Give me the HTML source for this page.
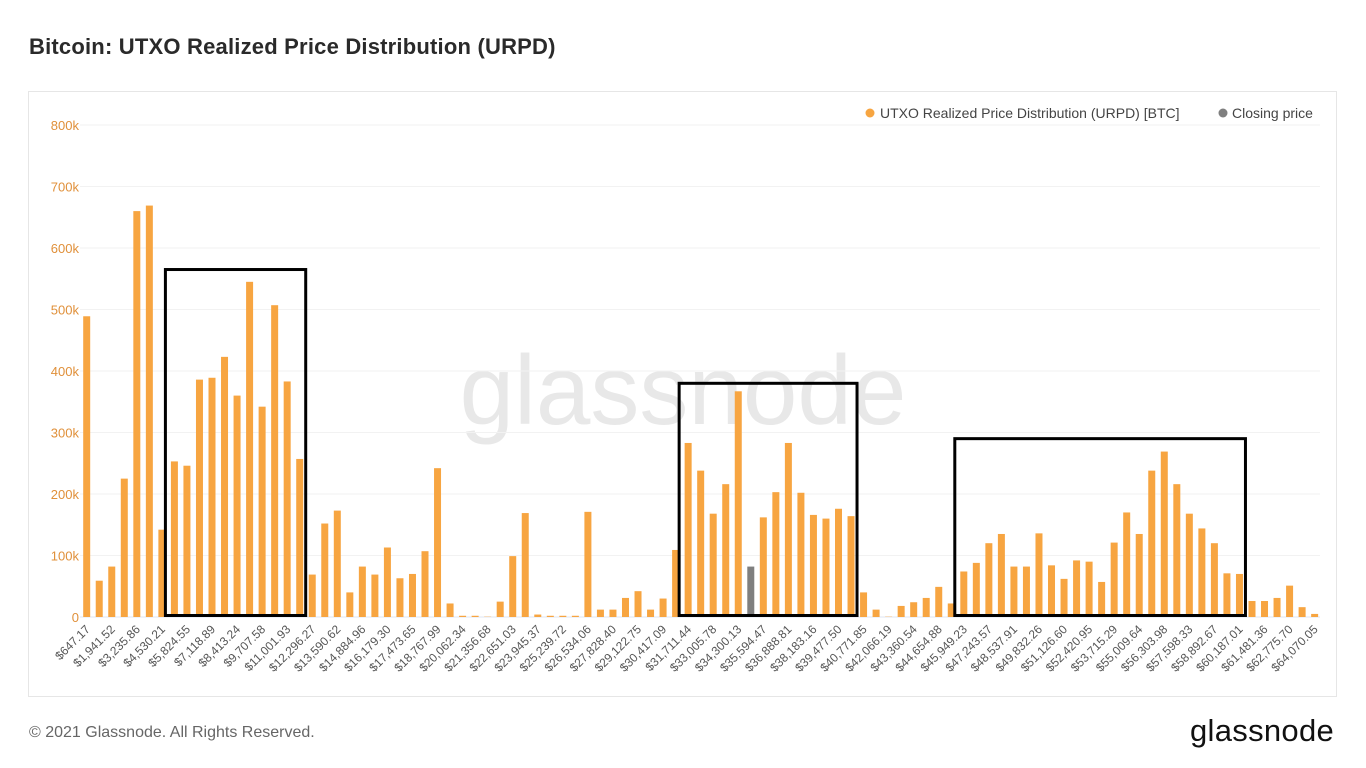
<!DOCTYPE html>
<html><head><meta charset="utf-8">
<style>
body{margin:0;width:1366px;height:768px;background:#fff;font-family:"Liberation Sans",sans-serif;overflow:hidden;position:relative}
#title{position:absolute;left:29px;top:34px;font-size:22px;color:#2a2a2a;font-weight:bold;letter-spacing:0.2px}
#frame{position:absolute;left:28px;top:91px;width:1309px;height:606px;border:1px solid #e6e6e6;box-sizing:border-box}
#foot{position:absolute;left:29px;top:724px;font-size:16px;color:#666}
#logo{position:absolute;left:1190px;top:713px;font-size:31px;color:#111;letter-spacing:0.3px}
svg{position:absolute;left:0;top:0}
</style></head>
<body>
<div id="title">Bitcoin: UTXO Realized Price Distribution (URPD)</div>
<div id="frame"></div>
<div id="foot">© 2021 Glassnode. All Rights Reserved.</div>
<div id="logo">glassnode</div>
<svg id="chart" width="1366" height="768"></svg>
<script>
const values = [489,59,82,225,660,669,142,253,246,386,389,423,360,545,342,507,383,257,69,152,173,40,82,69,113,63,70,107,242,22,2,2,0.5,25,99,169,4,2,2,2,171,12,12,31,42,12,30,109,283,238,168,216,367,0,162,203,283,202,166,160,176,164,40,12,0.5,18,24,31,49,22,74,88,120,135,82,82,136,84,62,92,90,57,121,170,135,238,269,216,168,144,120,71,70,26,26,31,51,16,5];
const closingIndex = [53];
const closingValues = [82];
const yTicks = [0,100,200,300,400,500,600,700,800];
const yTickLabels = ["0","100k","200k","300k","400k","500k","600k","700k","800k"];
const xLabels = ["$647.17","$1,941.52","$3,235.86","$4,530.21","$5,824.55","$7,118.89","$8,413.24","$9,707.58","$11,001.93","$12,296.27","$13,590.62","$14,884.96","$16,179.30","$17,473.65","$18,767.99","$20,062.34","$21,356.68","$22,651.03","$23,945.37","$25,239.72","$26,534.06","$27,828.40","$29,122.75","$30,417.09","$31,711.44","$33,005.78","$34,300.13","$35,594.47","$36,888.81","$38,183.16","$39,477.50","$40,771.85","$42,066.19","$43,360.54","$44,654.88","$45,949.23","$47,243.57","$48,537.91","$49,832.26","$51,126.60","$52,420.95","$53,715.29","$55,009.64","$56,303.98","$57,598.33","$58,892.67","$60,187.01","$61,481.36","$62,775.70","$64,070.05"];
const highlightRanges = [[7,17],[48,61],[70,92]];
const highlightTopValues = [565,380,290];

const NS="http://www.w3.org/2000/svg";
const svg=document.getElementById('chart');
const X0=86.7, STEP=12.53, Y0=617, YMAX=800, YTOP=125;
const xs=i=>X0+i*STEP;
const ys=v=>Y0-(v/YMAX)*(Y0-YTOP);
function mk(t,a){const e=document.createElementNS(NS,t);for(const k in a)e.setAttribute(k,a[k]);svg.appendChild(e);return e;}

let wm=mk('text',{x:683,y:424,'text-anchor':'middle','font-size':98,fill:'#e8e8e8','font-family':'Liberation Sans, sans-serif'});
wm.textContent='glassnode';



yTicks.forEach((t,i)=>{
  const y=ys(t);
  let g=mk('line',{x1:80,x2:1320,y1:y,y2:y,stroke:i===0?'#dfe6f0':'#f2f2f2','stroke-width':1});
  
  
  let l=mk('text',{x:79,y:y+5,'text-anchor':'end','font-size':13,fill:'#e0903a'});
  l.textContent=yTickLabels[i];
  
  
});

values.forEach((v,i)=>{
  const x=xs(i);
  let r=mk('rect',{x:x-3.5,y:ys(v),width:7,height:Y0-ys(v),fill:'#f7a541'});
  
  
});
closingIndex.forEach((ci,j)=>{
  const x=xs(ci),v=closingValues[j];
  let r=mk('rect',{x:x-3.5,y:ys(v),width:7,height:Y0-ys(v),fill:'#7f7f7f'});
  
  
});

xLabels.forEach((s,j)=>{
  const x=xs(j*2);
  let t=mk('text',{x:x+4,y:630,'text-anchor':'end','font-size':12,fill:'#555',transform:`rotate(-45 ${x+4} 630)`});
  t.textContent=s;
  
  
});

highlightRanges.forEach((r,k)=>{
  const x1=xs(r[0])-9, x2=xs(r[1])+6, top=ys(highlightTopValues[k]);
  let b=mk('rect',{x:x1,y:top,width:x2-x1,height:Y0-1.5-top,fill:'none',stroke:'#000','stroke-width':3});
  
  
});

let c1=mk('circle',{cx:870,cy:113,r:4.5,fill:'#f7a541'});


let t1=mk('text',{x:880,y:118,'font-size':14,fill:'#444'});t1.textContent='UTXO Realized Price Distribution (URPD) [BTC]';


let c2=mk('circle',{cx:1223,cy:113,r:4.5,fill:'#7f7f7f'});


let t2=mk('text',{x:1232,y:118,'font-size':14,fill:'#444'});t2.textContent='Closing price';


</script>
</body></html>
